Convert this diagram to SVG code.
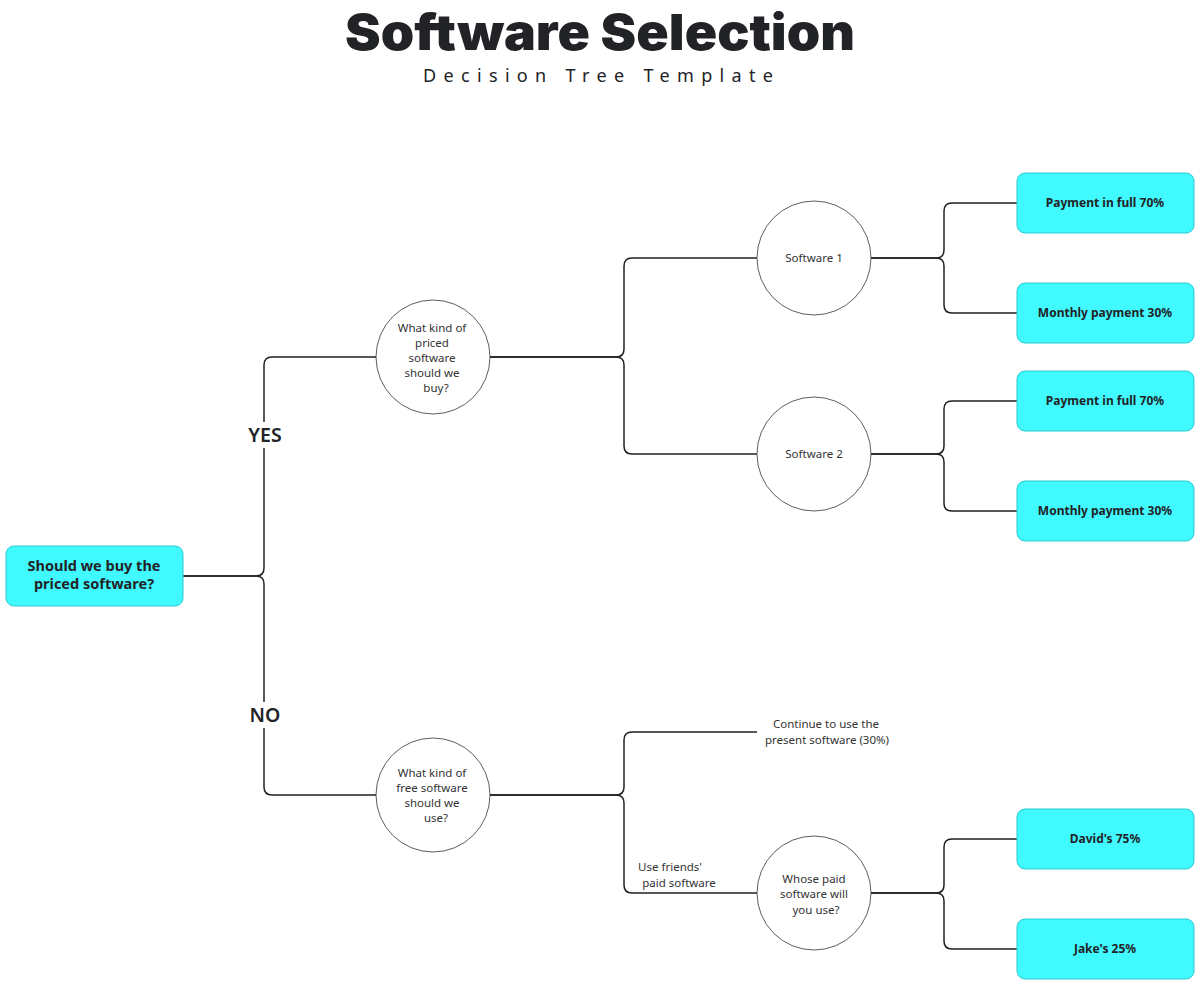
<svg xmlns="http://www.w3.org/2000/svg" width="1200" height="985" viewBox="0 0 1200 985">
<style>
.title{font-family:Inter,"Liberation Sans",sans-serif;font-weight:900;font-size:50px;fill:#222326}
.sub{font-family:"Noto Sans","Liberation Sans",sans-serif;font-size:18px;fill:#222326}
.box{fill:#40FAFF;stroke:#2EC9CF;stroke-width:1}
.circ{fill:#FFFFFF;stroke:#333;stroke-width:0.8}
.bt{font-family:"Noto Sans","Liberation Sans",sans-serif;font-weight:700;font-size:12px;fill:#222326;text-anchor:middle}
.rt{font-family:"Noto Sans","Liberation Sans",sans-serif;font-weight:700;font-size:14.5px;fill:#222326;text-anchor:middle}
.ct{font-family:"Noto Sans","Liberation Sans",sans-serif;font-size:11.5px;fill:#333;text-anchor:middle}
.lbl{font-family:"Noto Sans","Liberation Sans",sans-serif;font-weight:600;font-size:19.5px;fill:#222326;text-anchor:middle}
.conn path{fill:none;stroke:#222;stroke-width:1.5}
</style>
<rect width="1200" height="985" fill="#FFFFFF"/>
<text class="title" x="600" y="50" text-anchor="middle" textLength="510" lengthAdjust="spacingAndGlyphs">Software Selection</text>
<text class="sub" x="423" y="82" textLength="350" lengthAdjust="spacing">Decision Tree Template</text>

<g id="connectors" class="conn">
<path d="M183,576 H256 Q264,576 264,568 V365 Q264,357 272,357 H376"/>
<path d="M183,576 H256 Q264,576 264,584 V787 Q264,795 272,795 H376"/>
<path d="M490,357 H616 Q624,357 624,349 V266 Q624,258 632,258 H757"/>
<path d="M490,357 H616 Q624,357 624,365 V446 Q624,454 632,454 H757"/>
<path d="M871,258 H936 Q944,258 944,250 V211 Q944,203 952,203 H1017"/>
<path d="M871,258 H936 Q944,258 944,266 V305 Q944,313 952,313 H1017"/>
<path d="M871,454 H936 Q944,454 944,446 V409 Q944,401 952,401 H1017"/>
<path d="M871,454 H936 Q944,454 944,462 V503 Q944,511 952,511 H1017"/>
<path d="M490,795 H616 Q624,795 624,787 V740 Q624,732 632,732 H757"/>
<path d="M490,795 H616 Q624,795 624,803 V885 Q624,893 632,893 H757"/>
<path d="M871,893 H936 Q944,893 944,885 V847 Q944,839 952,839 H1017"/>
<path d="M871,893 H936 Q944,893 944,901 V941 Q944,949 952,949 H1017"/>
<rect x="240" y="422" width="50" height="26" fill="#FFFFFF"/>
<text class="lbl" x="265" y="442">YES</text>
<rect x="240" y="702" width="50" height="26" fill="#FFFFFF"/>
<text class="lbl" x="265" y="722">NO</text>
</g>

<g id="root">
<rect class="box" x="6" y="546" width="177" height="60" rx="8"/>
<text class="rt" x="94" y="571">Should we buy the</text>
<text class="rt" x="94" y="589">priced software?</text>
</g>

<g id="q-priced">
<circle class="circ" cx="433" cy="357" r="57"/>
<text class="ct" x="432" y="332">What kind of</text>
<text class="ct" x="432" y="347">priced</text>
<text class="ct" x="432" y="362">software</text>
<text class="ct" x="432" y="377">should we</text>
<text class="ct" x="436" y="392">buy?</text>
</g>

<g id="software1">
<circle class="circ" cx="814" cy="258" r="57"/>
<text class="ct" x="814" y="262">Software 1</text>
</g>

<g id="software2">
<circle class="circ" cx="814" cy="454" r="57"/>
<text class="ct" x="814" y="458">Software 2</text>
</g>

<g id="s1-full">
<rect class="box" x="1017" y="173" width="177" height="60" rx="8"/>
<text class="bt" x="1105" y="207">Payment in full 70%</text>
</g>
<g id="s1-monthly">
<rect class="box" x="1017" y="283" width="177" height="60" rx="8"/>
<text class="bt" x="1105" y="317">Monthly payment 30%</text>
</g>
<g id="s2-full">
<rect class="box" x="1017" y="371" width="177" height="60" rx="8"/>
<text class="bt" x="1105" y="405">Payment in full 70%</text>
</g>
<g id="s2-monthly">
<rect class="box" x="1017" y="481" width="177" height="60" rx="8"/>
<text class="bt" x="1105" y="515">Monthly payment 30%</text>
</g>

<g id="q-free">
<circle class="circ" cx="433" cy="795" r="57"/>
<text class="ct" x="432" y="777">What kind of</text>
<text class="ct" x="432" y="792">free software</text>
<text class="ct" x="432" y="807">should we</text>
<text class="ct" x="436" y="822">use?</text>
</g>

<g id="continue">
<text class="ct" x="826" y="728">Continue to use the</text>
<text class="ct" x="827" y="744">present software (30%)</text>
</g>

<g id="friends-label">
<text class="ct" x="670" y="871">Use friends'</text>
<text class="ct" x="679" y="887">paid software</text>
</g>

<g id="q-whose">
<circle class="circ" cx="814" cy="893" r="57"/>
<text class="ct" x="814" y="883">Whose paid</text>
<text class="ct" x="814" y="898">software will</text>
<text class="ct" x="816" y="914">you use?</text>
</g>

<g id="david">
<rect class="box" x="1017" y="809" width="177" height="60" rx="8"/>
<text class="bt" x="1105" y="843">David's 75%</text>
</g>
<g id="jake">
<rect class="box" x="1017" y="919" width="177" height="60" rx="8"/>
<text class="bt" x="1105" y="953">Jake's 25%</text>
</g>
</svg>
